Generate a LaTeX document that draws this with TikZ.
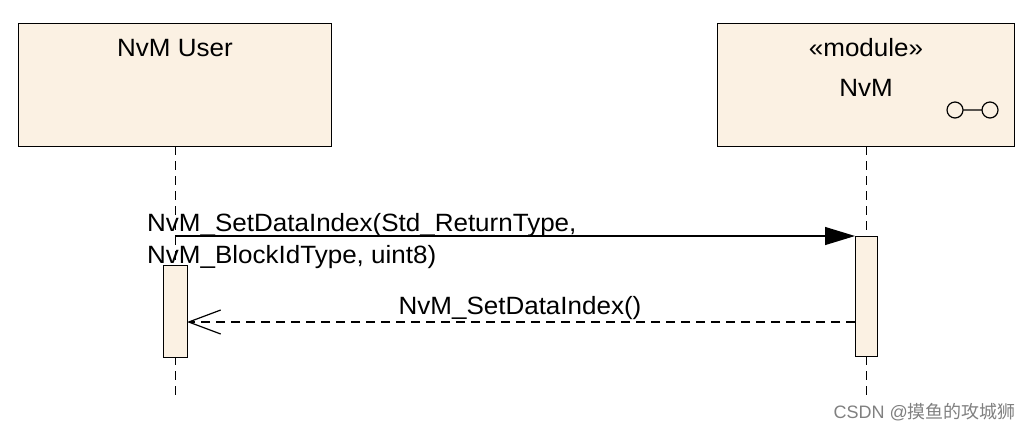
\documentclass[tikz,border=0pt]{standalone}
\usepackage{fontspec}
\setmainfont{Liberation Sans}
\newfontfamily\cjk{Noto Sans CJK SC}
\usetikzlibrary{arrows.meta}
\begin{document}
\begin{tikzpicture}[x=1pt,y=-1pt,
  box/.style={draw=black,fill=boxfill,line width=1pt},
  life/.style={draw=black,dash pattern=on 9pt off 6pt,line width=1pt},
  lbl/.style={font=\fontsize{25}{30}\selectfont,inner sep=0pt,xscale=1.04}]
\definecolor{boxfill}{HTML}{FBF1E3}
\useasboundingbox (0,0) rectangle (1032,432);
\draw[box] (18,23) rectangle (331,146);
\node[lbl] (u) at (175,48) {NvM User};
\draw[box] (717,23) rectangle (1014,146);
\node[lbl] (s) at (866,48) {«module»};
\node[lbl] (m) at (866,88) {NvM};
\coordinate (c1) at (955,110); \coordinate (c2) at (990,110);
\draw[line width=1.2pt] (c1) circle (8) (c2) circle (8) ([xshift=8pt]c1) -- ([xshift=-8pt]c2);
\coordinate (lt) at (175,146); \coordinate (lb) at (175,398);
\coordinate (rt) at (866,146); \coordinate (rb) at (866,398);
\draw[life] (lt) -- (lb);
\draw[life] (rt) -- (rb);
\draw[box] (163,265) rectangle (187,357);
\draw[box] (855,236) rectangle (877,356);
\coordinate (a1) at (175,236); \coordinate (a2) at (855,236);
\draw[line width=1.2pt,-{Triangle[length=30pt,width=18pt]}] (a1) -- (a2);
\coordinate (b1) at (855,322); \coordinate (b2) at (187,322);
\draw[line width=1.2pt,dash pattern=on 9pt off 6pt,-{Straight Barb[length=32pt,width=24pt]}] (b1) -- (b2);
\node[lbl,anchor=base west] (t1) at (147,231) {NvM\_SetDataIndex(Std\_ReturnType,};
\node[lbl,anchor=base west] (t2) at (147,263) {NvM\_BlockIdType, uint8)};
\node[lbl,anchor=base] (t3) at (520,314) {NvM\_SetDataIndex()};
\node[inner sep=0pt,anchor=base east,text=gray,font=\fontsize{18}{22}\selectfont] (w) at (1016,418) {CSDN @{\cjk 摸鱼的攻城狮}};
\end{tikzpicture}
\end{document}
